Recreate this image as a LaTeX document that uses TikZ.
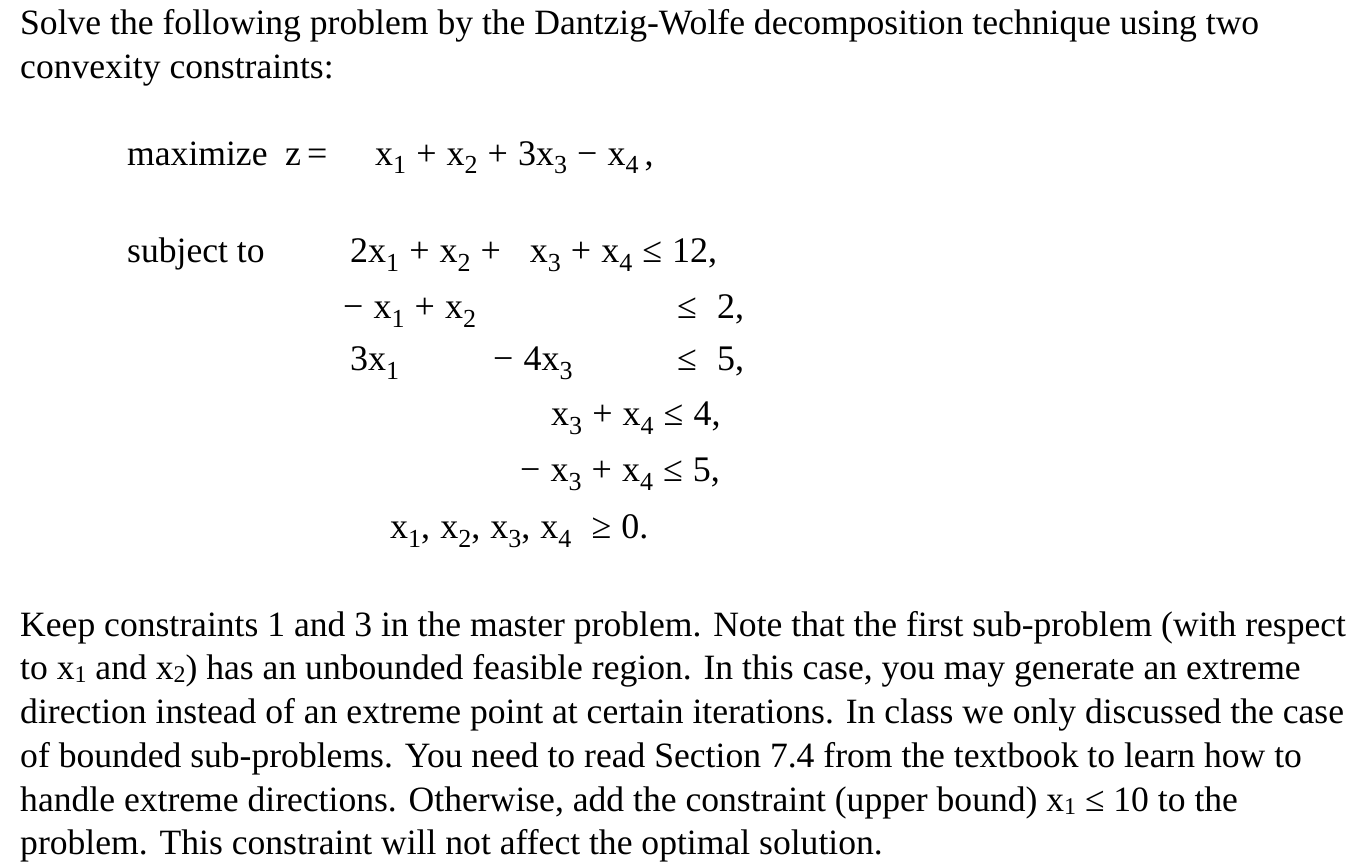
\documentclass[tikz,border=0pt]{standalone}
\usepackage{fontspec}
\setmainfont{Liberation Serif}
\newcommand{\sbs}[1]{\raisebox{-0.25em}{\fontsize{26}{26}\selectfont #1}}
\newcommand{\isb}[1]{\raisebox{-0.1em}{\fontsize{24}{24}\selectfont #1}}
\newcommand{\gp}{\hspace{0.28em}}
\begin{document}
\begin{tikzpicture}[x=1pt,y=-1pt,
  t/.style={anchor=base west,inner sep=0pt,font=\fontsize{35.6}{35.6}\selectfont},
  m/.style={anchor=base west,inner sep=0pt,font=\fontsize{36}{36}\selectfont}]
\useasboundingbox (0,0) rectangle (1360,864);
\node[t] (l1) at (20,35) {Solve the following problem by the Dantzig-Wolfe decomposition technique using two};
\node[t] (l2) at (20,79) {convexity constraints:};
\node[t] (mx) at (127,165) {maximize};
\node[m] (z) at (285,165) {z\,=};
\node[m] (obj) at (375,165) {x\sbs{1}\gp+\gp x\sbs{2}\gp+\gp 3x\sbs{3}\gp−\gp x\sbs{4}\,,};
\node[t] (st) at (127,262) {subject to};
\node[m] (c1) at (350,262) {2x\sbs{1}\gp+\gp x\sbs{2}\gp+\hspace{0.8em}x\sbs{3}\gp+\gp x\sbs{4}\gp≤\gp12,};
\node[m] (c2a) at (343,318) {−\gp x\sbs{1}\gp+\gp x\sbs{2}};
\node[m] (c2b) at (677,318) {≤\gp\gp2,};
\node[m] (c3a) at (350,370) {3x\sbs{1}};
\node[m] (c3b) at (493,370) {−\gp4x\sbs{3}};
\node[m] (c3c) at (677,370) {≤\gp\gp5,};
\node[m] (c4) at (551,425) {x\sbs{3}\gp+\gp x\sbs{4}\gp≤\gp4,};
\node[m] (c5) at (520,481) {−\gp x\sbs{3}\gp+\gp x\sbs{4}\gp≤\gp5,};
\node[m] (c6) at (390,538) {x\sbs{1},\gp x\sbs{2},\gp x\sbs{3},\gp x\sbs{4}\gp\gp≥\gp0.};
\node[t] (p1) at (20,636) {Keep constraints 1 and 3 in the master problem.\,\,Note that the first sub-problem (with respect};
\node[t] (p2) at (20,679) {to x\isb{1} and x\isb{2}) has an unbounded feasible region.\,\,In this case, you may generate an extreme};
\node[t] (p3) at (20,723) {direction instead of an extreme point at certain iterations.\,\,In class we only discussed the case};
\node[t] (p4) at (20,767) {of bounded sub-problems.\,\,You need to read Section 7.4 from the textbook to learn how to};
\node[t] (p5) at (20,811) {handle extreme directions.\,\,Otherwise, add the constraint (upper bound) x\isb{1} ≤ 10 to the};
\node[t] (p6) at (20,854) {problem.\,\,This constraint will not affect the optimal solution.};
\end{tikzpicture}
\end{document}
